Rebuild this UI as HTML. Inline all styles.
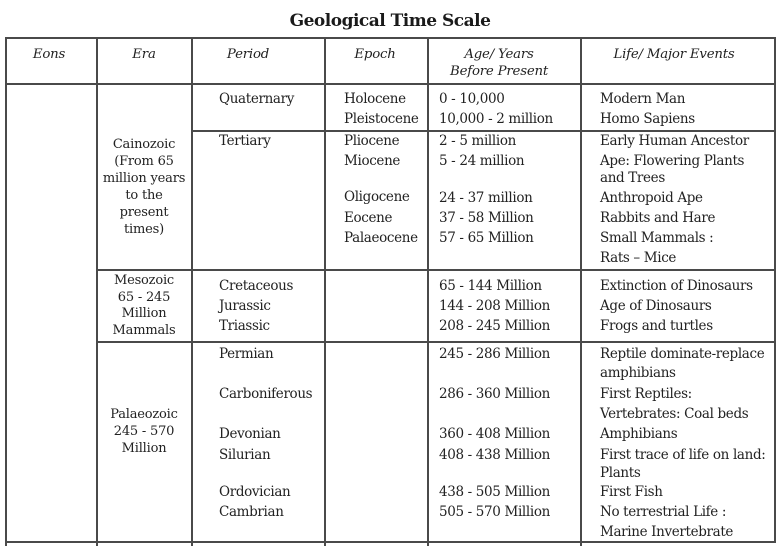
<!DOCTYPE html>
<html>
<head>
<meta charset="utf-8">
<style>
  html,body{margin:0;padding:0;background:#fff;width:780px;height:546px;overflow:hidden;}
  #c{position:relative;width:780px;height:546px;overflow:hidden;background:#fff;
     font-family:"DejaVu Serif","Liberation Serif",serif;color:#222;}
  .h{position:absolute;background:#4a4a4a;height:2px;}
  .v{position:absolute;background:#4a4a4a;width:2px;}
  .t{position:absolute;font-size:13.5px;line-height:16px;white-space:nowrap;letter-spacing:-0.35px;}
  .e{position:absolute;font-size:13px;white-space:nowrap;text-align:center;width:94px;left:97px;letter-spacing:-0.2px;}
  .hd{position:absolute;font-size:13.3px;line-height:16px;font-style:italic;white-space:nowrap;text-align:center;width:200px;letter-spacing:-0.2px;}
  .title{position:absolute;left:190px;width:400px;top:11px;text-align:center;font-weight:bold;font-size:17px;line-height:20px;letter-spacing:-0.5px;color:#1a1a1a;}
</style>
</head>
<body>
<div id="c">
  <div class="title">Geological Time Scale</div>

  <!-- horizontal lines -->
  <div class="h" style="left:5px;top:37px;width:771px;"></div>
  <div class="h" style="left:5px;top:83px;width:771px;"></div>
  <div class="h" style="left:191px;top:130px;width:585px;"></div>
  <div class="h" style="left:96px;top:269px;width:680px;"></div>
  <div class="h" style="left:96px;top:341px;width:680px;"></div>
  <div class="h" style="left:5px;top:541px;width:771px;"></div>

  <!-- vertical lines -->
  <div class="v" style="left:5px;top:37px;height:509px;"></div>
  <div class="v" style="left:96px;top:37px;height:509px;"></div>
  <div class="v" style="left:191px;top:37px;height:509px;"></div>
  <div class="v" style="left:324px;top:37px;height:509px;"></div>
  <div class="v" style="left:427px;top:37px;height:509px;"></div>
  <div class="v" style="left:580px;top:37px;height:509px;"></div>
  <div class="v" style="left:774px;top:37px;height:506px;"></div>

  <!-- header -->
  <div class="hd" style="left:-51px;top:47px;">Eons</div>
  <div class="hd" style="left:44px;top:47px;">Era</div>
  <div class="hd" style="left:148px;top:47px;">Period</div>
  <div class="hd" style="left:275px;top:47px;">Epoch</div>
  <div class="hd" style="left:399px;top:47px;">Age/ Years</div>
  <div class="hd" style="left:399px;top:64px;">Before Present</div>
  <div class="hd" style="left:574px;top:47px;">Life/ Major Events</div>

  <!-- Era column -->
  <div class="e" style="top:136px;line-height:17px;">Cainozoic<br>(From 65<br>million years<br>to the<br>present<br>times)</div>
  <div class="e" style="top:273px;line-height:16.7px;">Mesozoic<br>65 - 245<br>Million<br>Mammals</div>
  <div class="e" style="top:406px;line-height:17px;">Palaeozoic<br>245 - 570<br>Million</div>

  <!-- Period column -->
  <div class="t" style="left:219px;top:91px;">Quaternary</div>
  <div class="t" style="left:219px;top:133px;">Tertiary</div>
  <div class="t" style="left:219px;top:278px;">Cretaceous</div>
  <div class="t" style="left:219px;top:298px;">Jurassic</div>
  <div class="t" style="left:219px;top:318px;">Triassic</div>
  <div class="t" style="left:219px;top:346px;">Permian</div>
  <div class="t" style="left:219px;top:386px;">Carboniferous</div>
  <div class="t" style="left:219px;top:426px;">Devonian</div>
  <div class="t" style="left:219px;top:447px;">Silurian</div>
  <div class="t" style="left:219px;top:484px;">Ordovician</div>
  <div class="t" style="left:219px;top:504px;">Cambrian</div>

  <!-- Epoch column -->
  <div class="t" style="left:344px;top:91px;">Holocene</div>
  <div class="t" style="left:344px;top:111px;">Pleistocene</div>
  <div class="t" style="left:344px;top:133px;">Pliocene</div>
  <div class="t" style="left:344px;top:153px;">Miocene</div>
  <div class="t" style="left:344px;top:189px;">Oligocene</div>
  <div class="t" style="left:344px;top:210px;">Eocene</div>
  <div class="t" style="left:344px;top:230px;">Palaeocene</div>

  <!-- Age column -->
  <div class="t" style="left:439px;top:91px;">0 - 10,000</div>
  <div class="t" style="left:439px;top:111px;">10,000 - 2 million</div>
  <div class="t" style="left:439px;top:133px;">2 - 5 million</div>
  <div class="t" style="left:439px;top:153px;">5 - 24 million</div>
  <div class="t" style="left:439px;top:190px;">24 - 37 million</div>
  <div class="t" style="left:439px;top:210px;">37 - 58 Million</div>
  <div class="t" style="left:439px;top:230px;">57 - 65 Million</div>
  <div class="t" style="left:439px;top:278px;">65 - 144 Million</div>
  <div class="t" style="left:439px;top:298px;">144 - 208 Million</div>
  <div class="t" style="left:439px;top:318px;">208 - 245 Million</div>
  <div class="t" style="left:439px;top:346px;">245 - 286 Million</div>
  <div class="t" style="left:439px;top:386px;">286 - 360 Million</div>
  <div class="t" style="left:439px;top:426px;">360 - 408 Million</div>
  <div class="t" style="left:439px;top:447px;">408 - 438 Million</div>
  <div class="t" style="left:439px;top:484px;">438 - 505 Million</div>
  <div class="t" style="left:439px;top:504px;">505 - 570 Million</div>

  <!-- Life column -->
  <div class="t" style="left:600px;top:91px;">Modern Man</div>
  <div class="t" style="left:600px;top:111px;">Homo Sapiens</div>
  <div class="t" style="left:600px;top:133px;">Early Human Ancestor</div>
  <div class="t" style="left:600px;top:153px;">Ape: Flowering Plants</div>
  <div class="t" style="left:600px;top:170px;">and Trees</div>
  <div class="t" style="left:600px;top:190px;">Anthropoid Ape</div>
  <div class="t" style="left:600px;top:210px;">Rabbits and Hare</div>
  <div class="t" style="left:600px;top:230px;">Small Mammals :</div>
  <div class="t" style="left:600px;top:250px;">Rats – Mice</div>
  <div class="t" style="left:600px;top:278px;">Extinction of Dinosaurs</div>
  <div class="t" style="left:600px;top:298px;">Age of Dinosaurs</div>
  <div class="t" style="left:600px;top:318px;">Frogs and turtles</div>
  <div class="t" style="left:600px;top:346px;">Reptile dominate-replace</div>
  <div class="t" style="left:600px;top:365px;">amphibians</div>
  <div class="t" style="left:600px;top:386px;">First Reptiles:</div>
  <div class="t" style="left:600px;top:406px;">Vertebrates: Coal beds</div>
  <div class="t" style="left:600px;top:426px;">Amphibians</div>
  <div class="t" style="left:600px;top:447px;">First trace of life on land:</div>
  <div class="t" style="left:600px;top:465px;">Plants</div>
  <div class="t" style="left:600px;top:484px;">First Fish</div>
  <div class="t" style="left:600px;top:504px;">No terrestrial Life :</div>
  <div class="t" style="left:600px;top:524px;">Marine Invertebrate</div>
</div>
</body>
</html>
